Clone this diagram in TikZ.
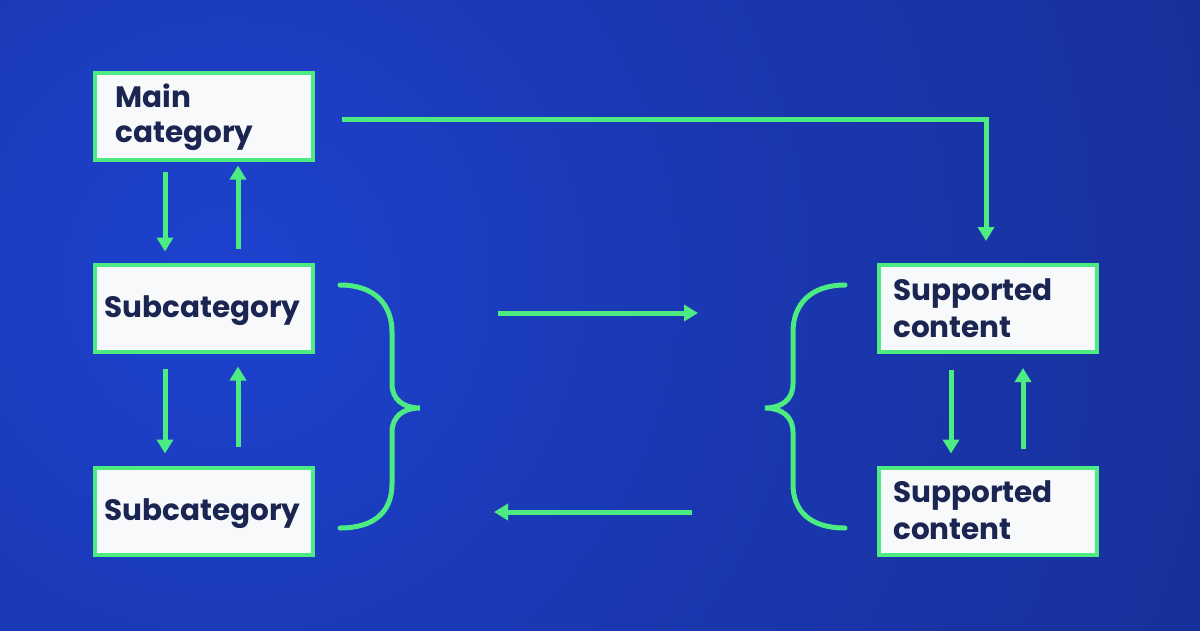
\documentclass[tikz,border=0pt]{standalone}
\usepackage{fontspec}
\setmainfont{Poppins}
\usetikzlibrary{arrows.meta}
\definecolor{bgA}{HTML}{1D42CF}
\definecolor{bgB}{HTML}{1A38B2}
\definecolor{bgC}{HTML}{17309A}
\definecolor{bgD}{HTML}{13266A}
\definecolor{bgE}{HTML}{0E1C4E}
\definecolor{grn}{HTML}{4CEC82}
\definecolor{boxfill}{HTML}{F8F9FB}
\definecolor{txt}{HTML}{1B2552}
\pgfdeclareradialshading{bgshade}{\pgfpoint{0bp}{0bp}}{color(0bp)=(bgA); color(9bp)=(bgB); color(20bp)=(bgC); color(36bp)=(bgD); color(50bp)=(bgE)}
\tikzset{
  box/.style={draw=grn, line width=4pt, fill=boxfill, minimum width=218pt, minimum height=87pt, inner sep=0pt},
  lbl/.style={anchor=base west, inner sep=0pt, text=txt, font=\fontsize{29.5}{35}\selectfont\bfseries},
  arr/.style={draw=grn, line width=5pt, -{Triangle[length=14pt,width=16pt]}},
  brace/.style={draw=grn, line width=5pt, line cap=round}
}
\begin{document}
\begin{tikzpicture}[x=1pt,y=-1pt]
\useasboundingbox (0,0) rectangle (1200,630);
\begin{scope}
\clip (0,0) rectangle (1200,630);
\shade[shading=bgshade] (230,280) circle (1300);
\end{scope}
% boxes
\node[box] (main) at (204,116) {};
\node[box] (sub1) at (204,308) {};
\node[box] (sub2) at (204,511) {};
\node[box] (sc1) at (988,308.5) {};
\node[box] (sc2) at (988,511) {};
% labels
\node[lbl] (mainA) at (115,107) {Main};
\node[lbl] (mainB) at (115,142) {category};
\node[lbl] (subA) at (104,317) {Subcategory};
\node[lbl] (subB) at (104,520) {Subcategory};
\node[lbl] (scA1) at (893,300) {Supported};
\node[lbl] (scA2) at (893,337) {content};
\node[lbl] (scB1) at (893,502) {Supported};
\node[lbl] (scB2) at (893,539) {content};
% vertical arrows left
\draw[arr, shorten <=10pt, shorten >=11pt] ([xshift=-39pt]main.south) -- ([xshift=-39pt]sub1.north);
\draw[arr, shorten <=14pt, shorten >=4pt] ([xshift=34pt]sub1.north) -- ([xshift=34pt]main.south);
\draw[arr, shorten <=15pt, shorten >=12pt] ([xshift=-39pt]sub1.south) -- ([xshift=-39pt]sub2.north);
\draw[arr, shorten <=19pt, shorten >=13pt] ([xshift=34pt]sub2.north) -- ([xshift=34pt]sub1.south);
% vertical arrows right
\draw[arr, shorten <=16pt, shorten >=12pt] ([xshift=-37pt]sc1.south) -- ([xshift=-37pt]sc2.north);
\draw[arr, shorten <=17pt, shorten >=14pt] ([xshift=35pt]sc2.north) -- ([xshift=35pt]sc1.south);
% main to supported
\coordinate (m1) at (342,119);
\draw[arr, shorten >=22pt] (m1) -| ([xshift=-2pt]sc1.north);
% middle arrows
\coordinate (r1) at (498,313);
\coordinate (r2) at (698,313);
\coordinate (l1) at (692,512);
\coordinate (l2) at (494,512);
\draw[arr] (r1) -- (r2);
\draw[arr] (l1) -- (l2);
% braces
\draw[brace] (340,285) .. controls (375,285) and (392,305) .. (392,332) -- (392,384) .. controls (392,400) and (404,408) .. (420,408) .. controls (404,408) and (392,416) .. (392,432) -- (392,484) .. controls (392,511) and (375,528) .. (340,528);
\draw[brace] (845,285) .. controls (810,285) and (793,305) .. (793,332) -- (793,384) .. controls (793,400) and (781,408) .. (765,408) .. controls (781,408) and (793,416) .. (793,432) -- (793,484) .. controls (793,511) and (810,528) .. (845,528);
\end{tikzpicture}
\end{document}
